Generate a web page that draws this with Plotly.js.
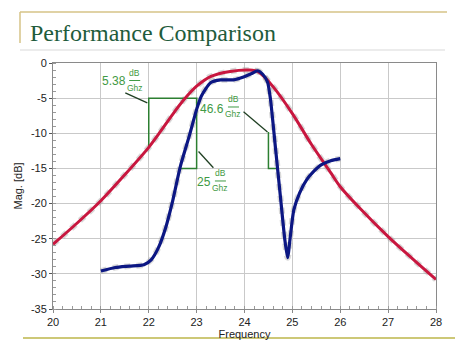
<!DOCTYPE html>
<html>
<head>
<meta charset="utf-8">
<script src="https://cdn.plot.ly/plotly-3.0.1.min.js"></script>
<style>
  html, body { margin: 0; padding: 0; background: #fff; }
  #chart { width: 474px; height: 355px; }
</style>
</head>
<body>
<div id="chart"></div>
<script>
// ---- Data ----
const wideFreq = [20, 20.5, 21, 21.5, 22, 22.25, 22.5, 22.75, 23, 23.3, 23.7, 24.1, 24.3, 24.6, 25, 25.4, 25.8, 26, 26.4, 27, 27.5, 28];
const wideMag  = [-25.8, -22.8, -19.6, -15.9, -12.0, -9.7, -7.3, -5.1, -3.3, -1.9, -1.2, -1.0, -1.3, -3.4, -7.2, -11.6, -15.6, -17.6, -20.6, -24.7, -27.8, -30.8];

const filtFreq = [21, 21.3, 21.6, 21.9, 22.05, 22.2, 22.35, 22.5, 22.66, 22.85, 23.0, 23.1, 23.29, 23.5, 23.77, 23.98, 24.15, 24.27, 24.38, 24.48, 24.54, 24.65, 24.75, 24.84, 24.9, 24.96, 25.03, 25.15, 25.3, 25.45, 25.6, 25.8, 26.0];
const filtMag  = [-29.6, -29.1, -28.9, -28.7, -28.0, -26.3, -23.5, -19.6, -14.7, -10.3, -6.6, -4.7, -2.8, -2.4, -2.4, -2.0, -1.5, -1.1, -1.6, -2.7, -5.0, -12.3, -19.0, -25.0, -27.7, -24.5, -20.9, -18.5, -16.6, -15.4, -14.5, -13.9, -13.6];

// slope construction lines (green)
const bracketAX = [22, 22, 23, 23, 22.66];
const bracketAY = [-12.1, -5, -5, -15, -15];
const bracketBX = [24.5, 24.5, 24.7];
const bracketBY = [-9.8, -15, -15];

// leader lines
const leader1X = [21.51, 21.97];
const leader1Y = [-4.26, -5.67];
const leader2X = [23.04, 23.35];
const leader2Y = [-12.6, -14.9];
const leader3X = [23.98, 24.48];
const leader3Y = [-6.95, -9.8];

// slope labels
const slopeValues = ['5.38', '25', '46.6'];
const slopeUnitTop = 'dB';
const slopeUnitBottom = 'Ghz';

// axis ticks
const xTickVals = [20, 21, 22, 23, 24, 25, 26, 27, 28];
const xTickText = ['20', '21', '22', '23', '24', '25', '26', '27', '28'];
const yTickVals = [0, -5, -10, -15, -20, -25, -30, -35];
const yTickText = ['0', '-5', '-10', '-15', '-20', '-25', '-30', '-35'];

// ---- helpers: convert picture pixels to data coordinates for label placement ----
const X = px => 20 + (px - 53) / 47.75;
const Y = py => -(py - 63) / 7.03;

const green = '#2c7f31';
const greenText = '#3f9a44';
const leaderCol = '#1f3f22';

const traces = [
  // grey measurement halos
  { x: wideFreq, y: wideMag, mode: 'lines', line: { color: 'rgba(160,160,160,0.4)', width: 6, dash: 'dot', shape: 'spline' }, hoverinfo: 'skip', showlegend: false },
  { x: filtFreq, y: filtMag, mode: 'lines', line: { color: 'rgba(160,160,160,0.4)', width: 6, dash: 'dot', shape: 'spline' }, hoverinfo: 'skip', showlegend: false },
  // green constructions
  { x: bracketAX, y: bracketAY, mode: 'lines', line: { color: green, width: 1.5 }, showlegend: false },
  { x: bracketBX, y: bracketBY, mode: 'lines', line: { color: green, width: 1.5 }, showlegend: false },
  { x: leader1X, y: leader1Y, mode: 'lines', line: { color: leaderCol, width: 1.3 }, showlegend: false },
  { x: leader2X, y: leader2Y, mode: 'lines', line: { color: leaderCol, width: 1.3 }, showlegend: false },
  { x: leader3X, y: leader3Y, mode: 'lines', line: { color: leaderCol, width: 1.3 }, showlegend: false },
  // curves
  { x: wideFreq, y: wideMag, mode: 'lines', line: { color: '#c8173f', width: 3, shape: 'spline', smoothing: 0.8 }, showlegend: false },
  { x: filtFreq, y: filtMag, mode: 'lines', line: { color: '#0c1783', width: 3.2, shape: 'spline', smoothing: 0.6 }, showlegend: false }
];

// slope label positions in picture pixels: [numberRightPx, numberCenterPy, fracCenterPx, fracLinePy]
const labelPx = [
  [128, 81, 134.5, 80.5],
  [213, 182.5, 220, 181],
  [226, 109, 233, 107]
];

const annotations = [];
const shapes = [];
labelPx.forEach((p, i) => {
  annotations.push({ x: X(p[0]), y: Y(p[1]), xref: 'x', yref: 'y', text: slopeValues[i], showarrow: false,
    xanchor: 'right', yanchor: 'middle', font: { family: 'Liberation Sans, Arial', size: 12, color: greenText } });
  annotations.push({ x: X(p[2]), y: Y(p[3] - 0.5), xref: 'x', yref: 'y', text: slopeUnitTop, showarrow: false,
    xanchor: 'center', yanchor: 'bottom', font: { family: 'Liberation Sans, Arial', size: 8.5, color: greenText } });
  annotations.push({ x: X(p[2]), y: Y(p[3] + 0.5), xref: 'x', yref: 'y', text: slopeUnitBottom, showarrow: false,
    xanchor: 'center', yanchor: 'top', font: { family: 'Liberation Sans, Arial', size: 8.5, color: greenText } });
  shapes.push({ type: 'line', xref: 'x', yref: 'y', x0: X(p[2] - 5.5), x1: X(p[2] + 5.5), y0: Y(p[3]), y1: Y(p[3]),
    line: { color: greenText, width: 1 } });
});

// slide decorations (paper coords relative to plot area: l=53, t=63, w=383, h=246)
const PX = px => (px - 53) / 383;
const PY = py => (309 - py) / 246;
shapes.push({ type: 'line', xref: 'paper', yref: 'paper', x0: PX(20), x1: PX(447), y0: PY(12), y1: PY(12), line: { color: '#d6c387', width: 1.5 } });
shapes.push({ type: 'line', xref: 'paper', yref: 'paper', x0: PX(20), x1: PX(20), y0: PY(12), y1: PY(43), line: { color: '#d6c387', width: 1.5 } });
shapes.push({ type: 'line', xref: 'paper', yref: 'paper', x0: PX(20), x1: PX(445), y0: PY(50), y1: PY(50), line: { color: '#d9d9d9', width: 1.2 } });
shapes.push({ type: 'line', xref: 'paper', yref: 'paper', x0: PX(23), x1: PX(455), y0: PY(338), y1: PY(338), line: { color: '#bdb64a', width: 1.5 } });

const layout = {
  width: 474, height: 355,
  margin: { l: 53, r: 38, t: 63, b: 46 },
  paper_bgcolor: '#ffffff', plot_bgcolor: '#ffffff',
  title: { text: 'Performance Comparison', xref: 'container', yref: 'container', x: 30 / 474, xanchor: 'left',
    y: 1 - 33 / 355, yanchor: 'middle', font: { family: 'Liberation Serif, Times New Roman, serif', size: 24, color: '#1f5c3c' } },
  xaxis: {
    range: [20, 28], tickvals: xTickVals, ticktext: xTickText,
    showgrid: true, gridcolor: '#c9c9c9', gridwidth: 1, zeroline: false,
    showline: true, linecolor: '#8a8a8a', linewidth: 1, mirror: true,
    ticks: 'outside', ticklen: 3, tickcolor: '#8a8a8a',
    minor: { dtick: 0.2, ticks: 'inside', ticklen: 3, tickcolor: '#9a9a9a', showgrid: false },
    tickfont: { family: 'Liberation Sans, Arial', size: 11, color: '#222' },
    title: { text: 'Frequency', standoff: 2, font: { family: 'Liberation Sans, Arial', size: 11, color: '#222' } }
  },
  yaxis: {
    range: [-35, 0], tickvals: yTickVals, ticktext: yTickText,
    showgrid: true, gridcolor: '#c9c9c9', gridwidth: 1, zeroline: false,
    showline: true, linecolor: '#8a8a8a', linewidth: 1, mirror: true,
    ticks: 'outside', ticklen: 3, tickcolor: '#555',
    minor: { dtick: 1, ticks: 'inside', ticklen: 3, tickcolor: '#9a9a9a', showgrid: false },
    tickfont: { family: 'Liberation Sans, Arial', size: 11, color: '#222' },
    title: { text: 'Mag. [dB]', standoff: 6, font: { family: 'Liberation Sans, Arial', size: 11, color: '#222' } }
  },
  annotations: annotations,
  shapes: shapes,
  showlegend: false
};

Plotly.newPlot('chart', traces, layout, { staticPlot: true, displayModeBar: false });
</script>
</body>
</html>
